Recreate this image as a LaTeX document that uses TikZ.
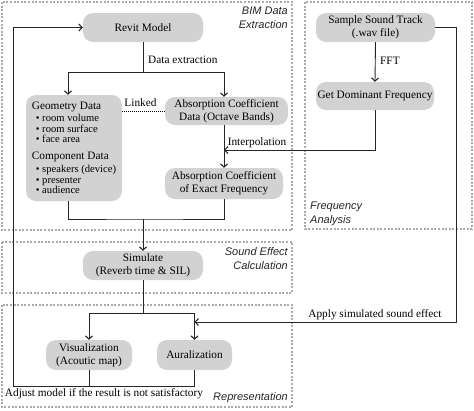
\documentclass[tikz,border=0pt]{standalone}
\usepackage{fontspec}
\setmainfont{Liberation Serif}
\newfontfamily\lsans{Liberation Sans}
\usetikzlibrary{arrows.meta}
\definecolor{boxgray}{HTML}{D2D2D2}
\definecolor{framegray}{HTML}{AAAAAA}
\definecolor{linecol}{HTML}{262626}
\begin{document}
\begin{tikzpicture}[x=1pt,y=-1pt,
  box/.style={fill=boxgray, rounded corners=10pt, align=center, inner sep=0pt,
    font=\fontsize{11.3}{12.7}\selectfont, text=black},
  frame/.style={draw=framegray, line width=2pt, dash pattern=on 2pt off 1.6pt},
  conn/.style={draw=linecol, line width=0.9pt},
  arr/.style={conn, -{Straight Barb[length=3.2pt,width=7pt,line width=1.1pt]}},
  lbl/.style={font=\fontsize{11.3}{12.7}\selectfont, inner sep=0pt},
  sect/.style={font=\lsans\itshape\fontsize{11}{14}\selectfont, inner sep=0pt, text=black!85}
]
\useasboundingbox (0,0) rectangle (474,410);

% section frames
\draw[frame] (2,2) rectangle (292,230);
\draw[frame] (305,2) rectangle (472,229);
\draw[frame] (2,242) rectangle (292,293);
\draw[frame] (2,305) rectangle (292,407);

% section labels
\node[sect, anchor=east, align=right] (sBIM) at (288,18) {BIM Data\\Extraction};
\node[sect, anchor=west, align=left] (sFreq) at (310,214) {Frequency\\Analysis};
\node[sect, anchor=east, align=right] (sSnd) at (288,258.7) {Sound Effect\\Calculation};
\node[sect, anchor=east] (sRep) at (288,397.5) {Representation};

% nodes
\node[box, minimum width=120pt, minimum height=29pt] (revit) at (143,27.5) {Revit Model};
\node[box, minimum width=96pt, minimum height=106pt, align=left,
  font=\fontsize{10.6}{10.4}\selectfont] (geom) at (74,148)
  {{\fontsize{11.3}{10.4}\selectfont Geometry Data}\\[1.6pt]
   \hspace*{4pt}\textbullet\ room volume\\
   \hspace*{4pt}\textbullet\ room surface\\
   \hspace*{4pt}\textbullet\ face area\\[6.8pt]
   {\fontsize{11.3}{10.4}\selectfont Component Data}\\[2.9pt]
   \hspace*{4pt}\textbullet\ speakers (device)\\
   \hspace*{4pt}\textbullet\ presenter\\
   \hspace*{4pt}\textbullet\ audience};
\node[box, minimum width=123pt, minimum height=28pt] (absdata) at (226.5,111) {Absorption Coefficient\\Data (Octave Bands)};
\node[box, minimum width=118pt, minimum height=31pt] (absexact) at (224,183.5) {Absorption Coefficient\\of Exact Frequency};
\node[box, minimum width=119pt, minimum height=29pt] (sample) at (375.5,27.5) {Sample Sound Track\\(.wav file)};
\node[box, minimum width=118pt, minimum height=28pt] (dom) at (375,96) {Get Dominant Frequency};
\node[box, minimum width=120pt, minimum height=29pt] (sim) at (143,265.5) {Simulate\\(Reverb time \& SIL)};
\node[box, minimum width=86pt, minimum height=30pt] (vis) at (89,355) {Visualization\\(Acoutic map)};
\node[box, minimum width=75pt, minimum height=30pt] (aur) at (194.5,355) {Auralization};

% helper coordinates
\coordinate (dx) at (143,72);
\coordinate (ip) at (224,150);
\coordinate (ipc) at (375,150);
\coordinate (j) at (143,219);
\coordinate (k) at (143,313);
\coordinate (c1) at (456,322);
\coordinate (fb) at (13,386);

% connectors
\draw[conn] (revit.south) -- (dx);
\draw[arr] (dx) -| (geom.north -| 68,0);
\draw[arr] (dx) -| (absdata.north -| 224,0);
\node[lbl, anchor=west] (tDE) at (148,60) {Data extraction};

\draw[draw=black, line width=0.8pt, dash pattern=on 1pt off 1pt] (geom.east |- absdata.west) -- (absdata.west);
\node[lbl] (tLk) at (140.5,102.5) {Linked};

\draw[arr] (absdata.south -| 224,0) -- (absexact.north);

\draw[arr] (dom.south) -- (ipc) -- (ip);
\node[lbl] (tIp) at (257,143) {Interpolation};

\draw[arr] (sample.south) -- (dom.north);
\node[lbl, anchor=west] (tFFT) at (380,61) {FFT};

\draw[conn] (geom.south -| 68,0) |- (j) -| (absexact.south);
\draw[arr] (j) -- (sim.north);

\draw[conn] (sim.south) -- (k);
\draw[arr] (k) -| (vis.north);
\draw[arr] (k) -| (aur.north);

\draw[arr] (sample.east) -| (c1) -- (aur.north |- c1);
\node[lbl] (tAp) at (375,315) {Apply simulated sound effect};

\draw[conn] (vis.south) |- (fb);
\draw[conn] (aur.south) |- (vis.south |- fb);
\draw[arr] (fb) |- (revit.west);
\node[lbl] (tAd) at (104,393.5) {Adjust model if the result is not satisfactory};
\end{tikzpicture}
\end{document}
